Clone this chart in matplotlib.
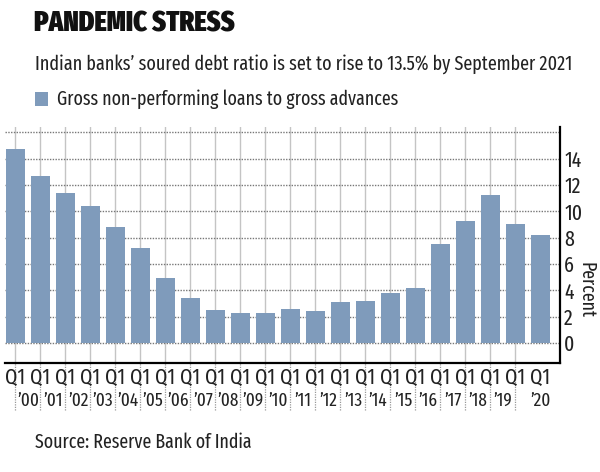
import matplotlib
matplotlib.use("Agg")
import matplotlib.pyplot as plt
from matplotlib.patches import Rectangle
import matplotlib.transforms as mtransforms

# ---- data ----
quarters = ["Q1"] * 22
year_labels = ["\u201900", "\u201901", "\u201902", "\u201903", "\u201904", "\u201905", "\u201906",
               "\u201907", "\u201908", "\u201909", "\u201910", "\u201911", "\u201912", "\u201913",
               "\u201914", "\u201915", "\u201916", "\u201917", "\u201918", "\u201919", "\u201920"]
year_positions = [0.5, 1.5, 2.5, 3.5, 4.5, 5.5, 6.5, 7.5, 8.5, 9.5, 10.5, 11.5, 12.5, 13.5,
                  14.5, 15.5, 16.5, 17.5, 18.5, 19.5, 21]
gnpa = [14.7, 12.7, 11.4, 10.4, 8.8, 7.2, 4.9, 3.4, 2.5, 2.3, 2.3, 2.6, 2.4, 3.1, 3.2,
        3.8, 4.2, 7.5, 9.3, 11.2, 9.0, 8.2]
y_ticks = [0, 2, 4, 6, 8, 10, 12, 14]
grid_levels = [0, 2, 4, 6, 8, 10, 12, 14, 16]
vgrid_positions = list(range(21))

title = "PANDEMIC STRESS"
subtitle = "Indian banks\u2019 soured debt ratio is set to rise to 13.5% by September 2021"
legend_label = "Gross non-performing loans to gross advances"
source = "Source: Reserve Bank of India"
y_label = "Percent"

BAR = "#7f9bbb"
BODY = ["Fira Sans Extra Condensed", "DejaVu Sans"]
TXT = "#222222"

W, H = 600, 472
fig = plt.figure(figsize=(W / 100, H / 100), dpi=100)
ax = fig.add_axes([5 / W, 1 - 363 / H, 555 / W, 236 / H])

x = list(range(len(gnpa)))
ax.bar(x, gnpa, width=0.76, color=BAR, zorder=3)

ax.set_xlim(-0.42, 21.78)
ax.set_ylim(-1.52, 16.4)

# grid lines
for g in grid_levels:
    ax.axhline(g, color="#777777", lw=1.0, ls=(0, (1, 1)), zorder=1)
for v in vgrid_positions:
    ax.axvline(v, color="#c4c4c4", lw=1.0, zorder=0.5)

# dotted tick lines below axis
trans = mtransforms.blended_transform_factory(ax.transData, ax.transAxes)
ax.vlines(vgrid_positions, -0.2, 0, transform=trans, colors="#999999", lw=0.9,
          linestyles=(0, (1, 1)), clip_on=False, zorder=1)

for s in ["top", "left"]:
    ax.spines[s].set_visible(False)
for s in ["bottom", "right"]:
    ax.spines[s].set_linewidth(1.6)
    ax.spines[s].set_color("black")

ax.set_xticks(x)
ax.set_xticklabels(quarters, fontsize=15.5, family=BODY, color=TXT)
ax.tick_params(axis="x", length=0, pad=3)

ax.yaxis.tick_right()
ax.set_yticks(y_ticks)
ax.set_yticklabels([str(t) for t in y_ticks], fontsize=15.5, family=BODY, color=TXT)
ax.tick_params(axis="y", length=0, pad=3)

fig.text(586 / W, 1 - 290 / H, y_label, rotation=270, fontsize=14, family=BODY, color=TXT,
         ha="center", va="center")

for pos, lab in zip(year_positions, year_labels):
    ax.text(pos, -0.161, lab, transform=trans, ha="center", va="center",
            fontsize=13.5, family=BODY, color=TXT)

# header
fig.text(34 / W, 1 - 24 / H, title, fontsize=20.5, family=BODY,
         fontweight="black", color="#111111", va="center", ha="left")
fig.text(35 / W, 1 - 64 / H, subtitle, fontsize=14.2, family=BODY, color=TXT,
         va="center", ha="left")
fig.add_artist(Rectangle((35 / W, 1 - 106 / H), 13 / W, 14 / H, transform=fig.transFigure,
                         facecolor=BAR, edgecolor="none"))
fig.text(57 / W, 1 - 99 / H, legend_label, fontsize=14, family=BODY, color=TXT,
         va="center", ha="left")
fig.text(35 / W, 1 - 442 / H, source, fontsize=14, family=BODY, color=TXT,
         va="center", ha="left")

fig.savefig("out.png", dpi=100)
